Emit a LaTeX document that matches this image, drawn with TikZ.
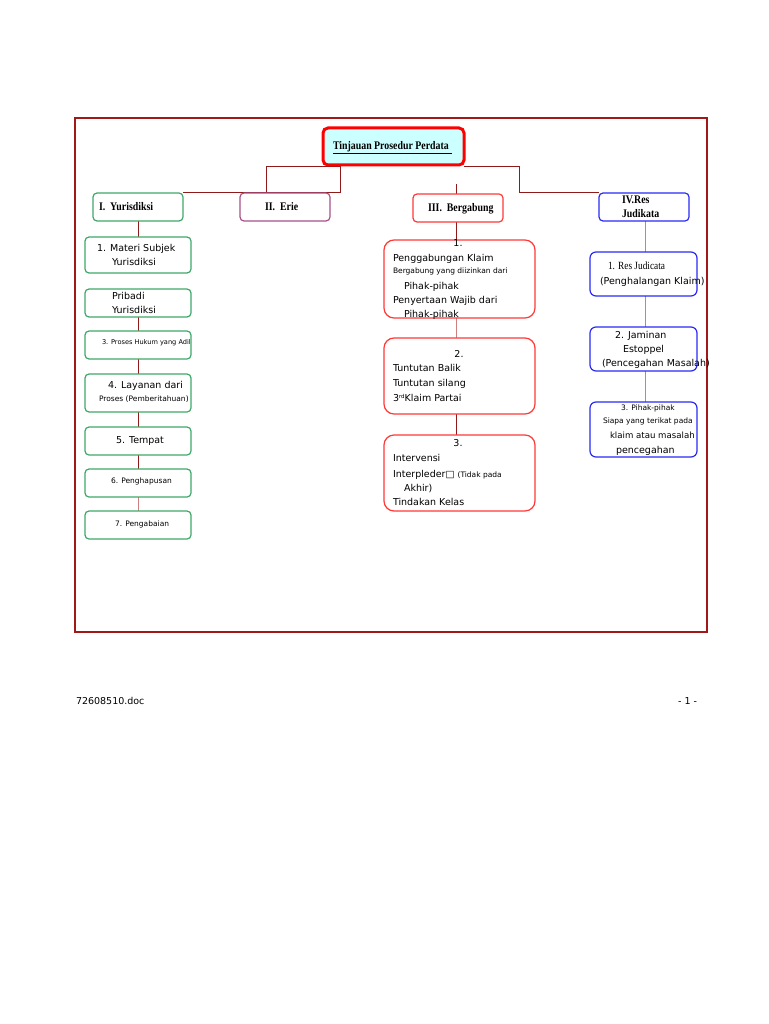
\documentclass[tikz,border=0pt]{standalone}
\usepackage{fontspec}
\setsansfont{DejaVu Sans}
\newfontfamily\hdfont[FakeStretch=0.85]{Liberation Serif}
\usetikzlibrary{backgrounds}
\definecolor{cframe}{HTML}{A01818}
\definecolor{cdark}{HTML}{8E1A1A}
\definecolor{cpink}{HTML}{CC8080}
\definecolor{cgreen}{HTML}{3DA868}
\definecolor{cpurple}{HTML}{A8508A}
\definecolor{cred}{HTML}{FF3838}
\definecolor{cblue}{HTML}{2A2AF5}
\definecolor{ccyan}{HTML}{CCFFFF}
\tikzset{
  every node/.style={inner sep=0pt, outer sep=0pt},
  box/.style={draw, rounded corners=4pt, line width=1.2pt, anchor=north west},
  gbox/.style={box, draw=cgreen},
  mbox/.style={box, draw=cred, rounded corners=10pt},
  rbox/.style={box, draw=cblue, rounded corners=6pt},
  txt/.style={anchor=base west, font=\sffamily\fontsize{9.5}{11}\selectfont},
  ctxt/.style={txt, anchor=base},
  sm/.style={anchor=base west, font=\sffamily\fontsize{7.5}{9}\selectfont},
  hd/.style={anchor=base west, font=\hdfont\bfseries\fontsize{11.6}{13}\selectfont},
  conn/.style={draw=cdark, line width=1pt},
  connl/.style={draw=cpink, line width=1pt},
}
\begin{document}
\begin{tikzpicture}[x=1pt,y=-1pt]
\useasboundingbox (0,0) rectangle (768,1024);
% frame
\node[draw=cframe, line width=1.1pt, anchor=north west, minimum width=632pt, minimum height=514pt] (frame) at (75,118) {};
% title
\node[box, draw=red, line width=3pt, rounded corners=5pt, fill=ccyan, minimum width=141pt, minimum height=37pt] (T) at (323,128) {};
\node[hd] (tT) at (333,149.5) {\underline{Tinjauan Prosedur Perdata\hspace{3pt}}};
% level 1
\node[gbox, minimum width=90pt, minimum height=28pt] (Y) at (93,193) {};
\node[box, draw=cpurple, minimum width=90pt, minimum height=28pt] (E) at (240,193) {};
\node[box, draw=cred, minimum width=90pt, minimum height=28pt] (B) at (413,194) {};
\node[rbox, rounded corners=4pt, minimum width=90pt, minimum height=28pt] (R) at (599,193) {};
\node[hd] (tY) at (99,211) {I.\ \ Yurisdiksi};
\node[hd] (tE) at (265,211) {II.\ \ Erie};
\node[hd] (tB) at (428,212) {III.\ \ Bergabung};
\node[hd] (tR1) at (622,204) {IV.Res};
\node[hd] (tR2) at (622,218) {Judikata};
% left column
\node[gbox, minimum width=106pt, minimum height=36pt] (L1) at (85,237) {};
\node[gbox, minimum width=106pt, minimum height=28pt] (L2) at (85,289) {};
\node[gbox, minimum width=106pt, minimum height=28pt] (L3) at (85,331) {};
\node[gbox, minimum width=106pt, minimum height=38pt] (L4) at (85,374) {};
\node[gbox, minimum width=106pt, minimum height=28pt] (L5) at (85,427) {};
\node[gbox, minimum width=106pt, minimum height=28pt] (L6) at (85,469) {};
\node[gbox, minimum width=106pt, minimum height=28pt] (L7) at (85,511) {};
\node[txt] (l1a) at (97,251.5) {1. Materi Subjek};
\node[txt] (l1b) at (112,265.5) {Yurisdiksi};
\node[txt] (l2a) at (112,299.5) {Pribadi};
\node[txt] (l2b) at (112,313.5) {Yurisdiksi};
\node[sm, font=\sffamily\fontsize{6.6}{8}\selectfont] (l3a) at (102,344.5) {3. Proses Hukum yang Adil};
\node[txt] (l4a) at (108,388.5) {4. Layanan dari};
\node[sm] (l4b) at (99,401.7) {Proses (Pemberitahuan)};
\node[txt] (l5a) at (116,443.5) {5. Tempat};
\node[sm] (l6a) at (111,483.7) {6. Penghapusan};
\node[sm] (l7a) at (115,526.7) {7. Pengabaian};
% middle column
\node[mbox, minimum width=151pt, minimum height=78pt] (M1) at (384,240) {};
\node[mbox, minimum width=151pt, minimum height=76pt] (M2) at (384,338) {};
\node[mbox, minimum width=151pt, minimum height=76pt] (M3) at (384,435) {};
\node[ctxt] (m1a) at (458,246.5) {1.};
\node[txt] (m1b) at (393,261.5) {Penggabungan Klaim};
\node[sm] (m1c) at (393,273.7) {Bergabung yang diizinkan dari};
\node[txt] (m1d) at (404,289.5) {Pihak-pihak};
\node[txt] (m1e) at (393,303.5) {Penyertaan Wajib dari};
\node[txt] (m1f) at (404,317.5) {Pihak-pihak};
\node[ctxt] (m2a) at (459,357.5) {2.};
\node[txt] (m2b) at (393,371.5) {Tuntutan Balik};
\node[txt] (m2c) at (393,386.5) {Tuntutan silang};
\node[txt] (m2d) at (393,401.5) {3\raisebox{3pt}{\fontsize{5.5}{6}\selectfont rd}Klaim Partai};
\node[ctxt] (m3a) at (458,446.5) {3.};
\node[txt] (m3b) at (393,461.5) {Intervensi};
\node[txt] (m3c) at (393,477.5) {Interpleder□ {\fontsize{7.5}{9}\selectfont(Tidak pada}};
\node[txt] (m3d) at (404,491.5) {Akhir)};
\node[txt] (m3e) at (393,505.5) {Tindakan Kelas};
% right column
\node[rbox, minimum width=107pt, minimum height=44pt] (R1) at (590,252) {};
\node[rbox, minimum width=107pt, minimum height=44pt] (R2) at (590,327) {};
\node[rbox, minimum width=107pt, minimum height=55pt] (R3) at (590,402) {};
\node[anchor=base west, font=\hdfont\fontsize{11}{12}\selectfont] (r1a) at (608,269.5) {1. Res Judicata};
\node[txt] (r1b) at (600,284.5) {(Penghalangan Klaim)};
\node[txt] (r2a) at (615,338.5) {2. Jaminan};
\node[txt] (r2b) at (623,352.5) {Estoppel};
\node[txt] (r2c) at (602,366.5) {(Pencegahan Masalah)};
\node[sm] (r3a) at (621,410.7) {3. Pihak-pihak};
\node[sm] (r3b) at (603,423.7) {Siapa yang terikat pada};
\node[txt, font=\sffamily\fontsize{8.6}{10}\selectfont] (r3c) at (610,438) {klaim atau masalah};
\node[txt] (r3d) at (616,453.5) {pencegahan};
% footer
\node[txt] (f1) at (76,704.5) {72608510.doc};
\node[txt, anchor=base east] (f2) at (697,704.5) {- 1 -};
% connectors
\coordinate (ja) at (266,167);
\coordinate (jb) at (340,167);
\coordinate (jc) at (266,193);
\coordinate (jd) at (340,193);
\coordinate (je) at (519,167);
\coordinate (jf) at (519,193);
\coordinate (jg) at (456,184);
\coordinate (jr) at (645,221);
\begin{pgfonlayer}{background}
\draw[conn] (jc) -- (ja) -- (jb) -- (jd);
\draw[conn] (Y.north east) -- (jd);
\draw[conn] (T.east |- je) -- (je) -- (jf) -- (R.north west);
\draw[conn] (jg) -- (jg |- B.north);
\draw[conn] (Y.south) -- (L1.north);
\draw[conn] (L2.south) -- (L3.north);
\draw[conn] (L3.south) -- (L4.north);
\draw[conn] (L4.south) -- (L5.north);
\draw[conn] (L5.south) -- (L6.north);
\draw[connl] (L6.south) -- (L7.north);
\draw[conn] (jg |- B.south) -- (jg |- M1.north);
\draw[connl] (jg |- M1.south) -- (jg |- M2.north);
\draw[conn] (jg |- M2.south) -- (jg |- M3.north);
\draw[connl] (jr |- R.south) -- (jr |- R1.north);
\draw[connl] (jr |- R1.south) -- (jr |- R2.north);
\draw[connl] (jr |- R2.south) -- (jr |- R3.north);
\end{pgfonlayer}
\end{tikzpicture}
\end{document}
